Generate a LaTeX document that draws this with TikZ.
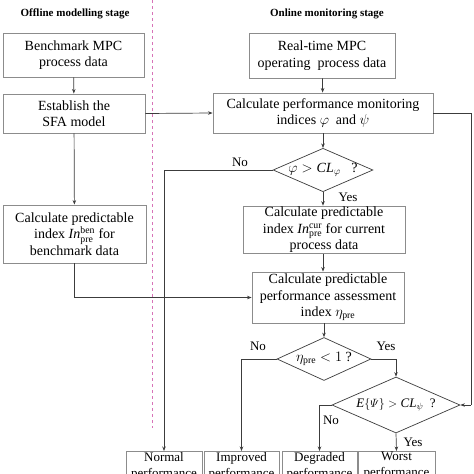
\documentclass[tikz,border=0pt]{standalone}
\usepackage{amsmath}
\usepackage{fontspec}
\setmainfont{Liberation Serif}
\usetikzlibrary{shapes.geometric,arrows.meta}
\definecolor{boxgray}{HTML}{8C8C8C}
\definecolor{linegray}{HTML}{3C3C3C}
\definecolor{pinkdash}{HTML}{D873B8}
\begin{document}
\begin{tikzpicture}[x=1pt,y=-1pt,
  box/.style={draw=boxgray, fill=white, line width=0.9pt, align=center, inner sep=1pt,
    font=\fontsize{14}{16.5}\selectfont},
  sbox/.style={box, font=\fontsize{13}{16}\selectfont},
  dia/.style={diamond, draw=linegray, fill=white, line width=0.7pt, inner sep=0pt, aspect=2.3,
    font=\fontsize{14}{16}\selectfont},
  conn/.style={draw=linegray, line width=0.7pt},
  arr/.style={conn, -{Stealth[length=4.5pt,width=3.5pt]}},
  lbl/.style={font=\fontsize{13}{15}\selectfont},
  title/.style={font=\fontsize{11}{13}\selectfont\bfseries}
]
\useasboundingbox (0,0) rectangle (474,474);
\clip (0,0) rectangle (474,474);
\fill[white] (0,0) rectangle (474,474);

% stage divider
\draw[pinkdash, line width=0.8pt, dashed] (152,0) -- (152,428);
\node[title] (t1) at (75,14) {Offline modelling stage};
\node[title] (t2) at (327,14) {Online monitoring stage};

% offline column
\node[box, minimum width=141pt, minimum height=44pt] (b1) at (73.5,55) {Benchmark MPC\\process data};
\node[box, minimum width=142pt, minimum height=39pt] (b2) at (74,113.5) {Establish the\\SFA model};
\node[box, minimum width=143pt, minimum height=58pt] (b3) at (74.5,234)
  {Calculate predictable\\index $\mathit{In}^{\mathrm{ben}}_{\mathrm{pre}}$ for\\benchmark data};

% online column
\node[box, minimum width=146pt, minimum height=45pt] (r1) at (322,55.5) {Real-time MPC\\operating\ \ process data};
\node[box, minimum width=220pt, minimum height=40pt] (r2) at (323,113)
  {Calculate performance monitoring\\indices $\varphi$\ \ and $\psi$};
\node[dia, minimum width=97pt, minimum height=43pt] (d1) at (323,170) {$\varphi > \mathit{CL}_{\varphi}$\ \ \ ?};
\node[box, minimum width=162pt, minimum height=46pt] (r3) at (324,230)
  {Calculate predictable\\index $\mathit{In}^{\mathrm{cur}}_{\mathrm{pre}}$ for current\\process data};
\node[box, minimum width=152pt, minimum height=51pt] (r4) at (328,297.5)
  {Calculate predictable\\performance assessment\\index $\eta_{\mathrm{pre}}$};
\node[dia, minimum width=94pt, minimum height=43pt] (d2) at (324,359) {$\eta_{\mathrm{pre}} < 1$ ?};
\node[dia, minimum width=128pt, minimum height=56pt, font=\fontsize{13}{15}\selectfont] (d3) at (396,405)
  {$\mathit{E}\{\varPsi\} > \mathit{CL}_{\psi}$\ \ ?};

% result boxes (cut by the lower edge)
\node[sbox, minimum width=76pt, minimum height=50pt, anchor=north, text depth=24pt] (n) at (164,451) {Normal\\performance};
\node[sbox, minimum width=75pt, minimum height=50pt, anchor=north, text depth=24pt] (im) at (241.5,451) {Improved\\performance};
\node[sbox, minimum width=75pt, minimum height=50pt, anchor=north, text depth=24pt] (dg) at (319.5,451) {Degraded\\performance};
\node[sbox, minimum width=77pt, minimum height=50pt, anchor=north, text depth=24pt] (w) at (396.5,451) {Worst\\performance};

\coordinate (rr) at (471,405);

% connectors
\draw[arr] (b1) -- (b2);
\draw[arr] (b2) -- (b3);
\draw[arr] (b2.east) -- (r2.west);
\draw[arr] (b3.south) |- (r4.west);
\draw[arr] (r1) -- (r2);
\draw[arr] (r2) -- (d1);
\draw[conn] (r2.east) -| (rr);
\draw[arr] (rr) -- (d3.east);
\draw[arr] (d1.west) -| (n.north);
\draw[arr] (d1.south) -- (r3.north -| d1.south);
\draw[arr] (r3.south -| d1.south) -- (r4.north -| d1.south);
\draw[arr] (d2.north |- r4.south) -- (d2.north);
\draw[arr] (d2.west) -| (im.north);
\draw[arr] (d2.east) -| (d3.north);
\draw[arr] (d3.west) -| (dg.north);
\draw[arr] (d3.south) -- (w.north);

% labels
\node[lbl] (l1) at (240,162) {No};
\node[lbl] (l2) at (348,197) {Yes};
\node[lbl] (l3) at (258,346) {No};
\node[lbl] (l4) at (386,346) {Yes};
\node[lbl] (l5) at (331,420) {No};
\node[lbl] (l6) at (413,442) {Yes};
\end{tikzpicture}
\end{document}
